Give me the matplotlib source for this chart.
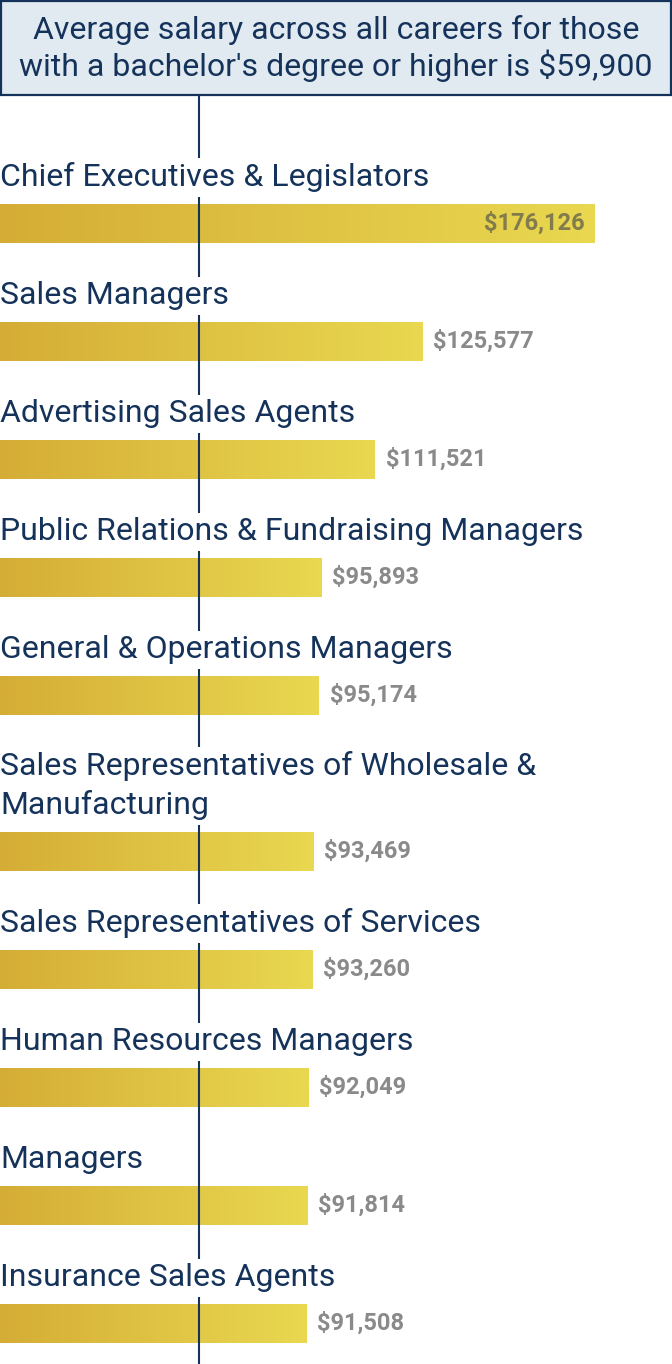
import matplotlib
matplotlib.use("Agg")
import matplotlib.pyplot as plt
import numpy as np
from matplotlib.colors import LinearSegmentedColormap
from matplotlib.patches import Rectangle

plt.rcParams['font.family'] = ['Roboto', 'DejaVu Sans']

categories = [
    "Chief Executives & Legislators",
    "Sales Managers",
    "Advertising Sales Agents",
    "Public Relations & Fundraising Managers",
    "General & Operations Managers",
    "Sales Representatives of Wholesale &\nManufacturing",
    "Sales Representatives of Services",
    "Human Resources Managers",
    "Managers",
    "Insurance Sales Agents",
]
salaries = [176126, 125577, 111521, 95893, 95174, 93469, 93260, 92049, 91814, 91508]
average_salary = 59900
note_text = "Average salary across all careers for those\nwith a bachelor's degree or higher is $59,900"

NAVY = "#15335a"
W, H = 672, 1364
fig = plt.figure(figsize=(W / 100, H / 100), dpi=100)
ax = fig.add_axes([0, 0, 1, 1])
XMIN, XMAX = 1500, 198900
ax.set_xlim(XMIN, XMAX)
ax.set_ylim(H, 0)
ax.axis("off")

cmap = LinearSegmentedColormap.from_list("gold", ["#d5ad36", "#e9d850"])
grad = np.linspace(0, 1, 256).reshape(1, -1)

row_h = 118
line_extra = 38
bar_h = 40
first_center = 223.5

y = first_center
for i, (cat, v) in enumerate(zip(categories, salaries)):
    nlines = cat.count("\n") + 1
    y_c = y + line_extra * (nlines - 1)
    bars = ax.barh([y_c], [v], height=bar_h, color="none", edgecolor="none")
    patch = bars.patches[0]
    im = ax.imshow(grad, cmap=cmap, aspect="auto",
                   extent=[XMIN, v, y_c + bar_h / 2, y_c - bar_h / 2], zorder=1,
                   interpolation="bilinear")
    im.set_clip_path(patch)
    # category label
    ax.text(XMIN, y_c - bar_h / 2 - 17, cat, ha="left", va="baseline",
            fontsize=23, color=NAVY, zorder=4, linespacing=1.4,
            bbox=dict(facecolor="white", edgecolor="none", pad=3))
    # value label
    lab = f"${v:,}"
    if v == max(salaries):
        ax.text(v - 2940, y_c, lab, ha="right", va="center", fontsize=17,
                fontweight="bold", color="#827c4c", zorder=3)
    else:
        ax.text(v + 3230, y_c, lab, ha="left", va="center", fontsize=17,
                fontweight="bold", color="#8a8a8a", zorder=3)
    y = y_c + row_h

ax.set_ylim(H, 0)
ax.set_xlim(XMIN, XMAX)

# average line
ax.plot([average_salary, average_salary], [95, H], color=NAVY, lw=1.5, zorder=2,
        solid_capstyle="butt")

# top note box (in figure pixel fractions)
box = Rectangle((1 / W, 1 - 95 / H), 1 - 2 / W, 94 / H, transform=fig.transFigure,
                facecolor="#e2eaf1", edgecolor=NAVY, lw=1.6, zorder=5)
fig.patches.append(box)
fig.text(0.5, 1 - 48.5 / H, note_text, ha="center", va="center",
         fontsize=23, color=NAVY, zorder=6, linespacing=1.18)

fig.savefig("out.png", dpi=100)
